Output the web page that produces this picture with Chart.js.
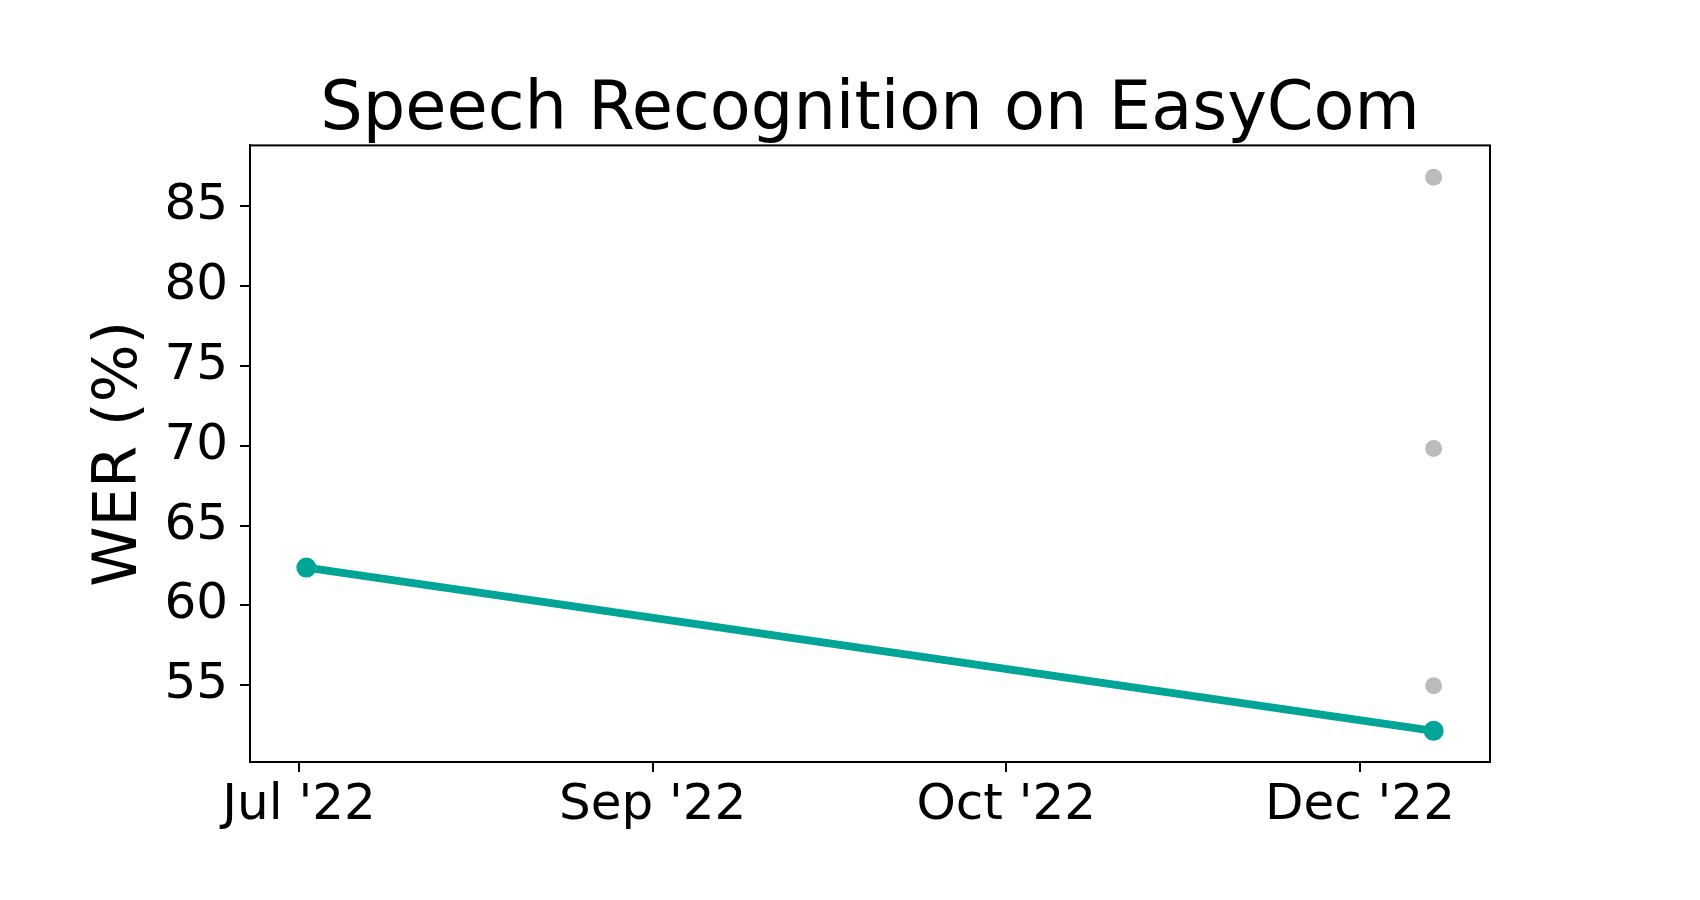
<!DOCTYPE html>
<html>
<head>
<meta charset="utf-8">
<script src="https://cdn.jsdelivr.net/npm/chart.js@4/dist/chart.umd.min.js"></script>
<style>
  html, body { margin: 0; padding: 0; background: #ffffff; }
  #c { display: block; }
</style>
</head>
<body>
<canvas id="c" width="1700" height="900"></canvas>
<script>
// ---- data ----
const lineDates = ['2022-07-22', '2022-12-22'];
const lineValues = [62.37, 52.15];
const otherDates = ['2022-12-22', '2022-12-22', '2022-12-22'];
const otherValues = [86.8, 69.82, 54.98];
const xTickDates = ['2022-07-21', '2022-09-07', '2022-10-25', '2022-12-12'];
const xTickLabels = ["Jul '22", "Sep '22", "Oct '22", "Dec '22"];
const yTickValues = [55, 60, 65, 70, 75, 80, 85];
const titleText = 'Speech Recognition on EasyCom';
const yTitleText = 'WER (%)';

const toDay = s => Date.parse(s + 'T00:00:00Z') / 86400000;
const lineDays = lineDates.map(toDay);
const otherDays = otherDates.map(toDay);
const xTickDays = xTickDates.map(toDay);

const allDays = lineDays.concat(otherDays);
const dMin = Math.min(...allDays), dMax = Math.max(...allDays);
const dPad = (dMax - dMin) * 0.05;

const FONT = 'DejaVu Sans';

const frame = {
  id: 'frame',
  afterDraw(chart) {
    const {ctx, chartArea: a} = chart;
    ctx.save();
    ctx.strokeStyle = '#000';
    ctx.lineWidth = 2;
    ctx.strokeRect(a.left, a.top, a.right - a.left, a.bottom - a.top);
    ctx.fillStyle = '#000';
    ctx.font = '67px "' + FONT + '"';
    ctx.textAlign = 'center';
    ctx.textBaseline = 'alphabetic';
    ctx.fillText(titleText, (a.left + a.right) / 2, a.top - 16);
    ctx.restore();
  }
};

new Chart(document.getElementById('c'), {
  type: 'scatter',
  data: {
    datasets: [
      {
        type: 'line',
        data: lineDays.map((d, i) => ({x: d, y: lineValues[i]})),
        borderColor: '#00A598',
        backgroundColor: '#00A598',
        borderWidth: 8,
        pointRadius: 10,
        pointBorderWidth: 0,
        pointBackgroundColor: '#00A598',
        showLine: true,
        order: 1
      },
      {
        data: otherDays.map((d, i) => ({x: d, y: otherValues[i]})),
        backgroundColor: '#BBBBBB',
        borderColor: '#BBBBBB',
        pointRadius: 8.5,
        pointBorderWidth: 0,
        showLine: false,
        order: 2
      }
    ]
  },
  options: {
    responsive: false,
    animation: false,
    devicePixelRatio: 1,
    layout: { padding: { left: 0, right: 210, top: 145.4, bottom: 0 } },
    plugins: {
      legend: { display: false },
      tooltip: { enabled: false },
      title: { display: false }
    },
    scales: {
      x: {
        type: 'linear',
        min: dMin - dPad,
        max: dMax + dPad,
        border: { display: true, color: '#000', width: 2 },
        grid: { display: true, drawOnChartArea: false, drawTicks: true, tickLength: 10, color: '#000', lineWidth: 2 },
        afterBuildTicks: s => { s.ticks = xTickDays.map(v => ({value: v})); },
        afterFit: s => { s.height = 138; },
        ticks: {
          color: '#000',
          padding: 4,
          maxRotation: 0,
          autoSkip: false,
          font: { family: FONT, size: 50 },
          callback: (v, i) => xTickLabels[i]
        }
      },
      y: {
        type: 'linear',
        min: 50.2,
        max: 88.8,
        border: { display: true, color: '#000', width: 2 },
        grid: { display: true, drawOnChartArea: false, drawTicks: true, tickLength: 10, color: '#000', lineWidth: 2 },
        afterBuildTicks: s => { s.ticks = yTickValues.map(v => ({value: v})); },
        afterFit: s => { s.width = 250; },
        title: {
          display: true,
          text: yTitleText,
          color: '#000',
          font: { family: FONT, size: 61 },
          padding: { top: 84, bottom: 0 }
        },
        ticks: {
          color: '#000',
          padding: 12,
          autoSkip: false,
          font: { family: FONT, size: 50 },
          callback: v => String(v)
        }
      }
    }
  },
  plugins: [frame]
});
</script>
</body>
</html>
